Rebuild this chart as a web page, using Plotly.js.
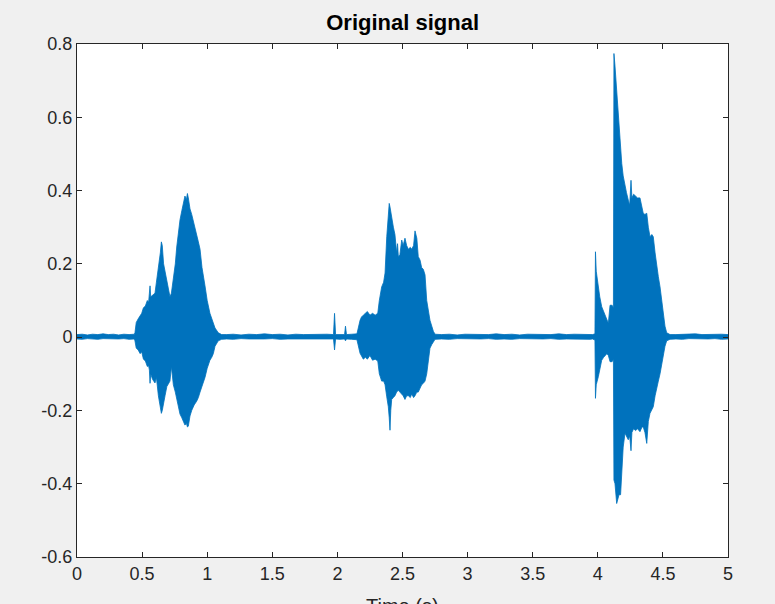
<!DOCTYPE html>
<html>
<head>
<meta charset="utf-8">
<script src="https://cdn.plot.ly/plotly-3.0.1.min.js"></script>
<style>
  html, body { margin: 0; padding: 0; background: #f0f0f0; }
  #chart { width: 775px; height: 604px; }
</style>
</head>
<body>
<div id="chart"></div>
<script>
// Envelope of the waveform (time in s, upper and lower amplitude)
var envTime = [
  0.000,0.040,0.080,0.120,0.160,0.200,0.240,0.280,0.320,0.360,0.400,0.440,
  0.445,0.455,0.470,0.485,0.497,0.510,0.525,0.540,0.550,0.556,0.561,0.566,0.580,0.599,0.610,0.625,0.640,0.648,0.655,0.665,0.676,0.690,0.700,0.714,0.725,0.740,0.755,0.766,0.780,0.791,0.805,0.820,0.829,0.840,0.848,0.855,0.868,0.881,0.900,0.919,0.932,0.945,0.960,0.983,1.000,1.021,1.035,1.047,1.060,1.085,1.111,
  1.150,1.200,1.260,1.320,1.380,1.440,1.500,1.560,1.620,1.680,1.740,1.800,1.860,1.920,1.970,1.978,1.986,2.020,2.055,2.062,2.070,2.110,2.150,
  2.174,2.185,2.199,2.215,2.230,2.250,2.270,2.290,2.310,2.322,2.340,2.355,2.366,2.379,2.391,2.398,2.404,2.410,2.417,2.430,2.442,2.455,2.462,2.468,2.480,2.494,2.505,2.519,2.532,2.545,2.560,2.571,2.585,2.596,2.610,2.621,2.635,2.647,2.660,2.673,2.686,2.700,2.711,2.725,2.737,2.750,
  2.800,2.860,2.920,2.980,3.040,3.100,3.160,3.220,3.280,3.340,3.400,3.460,3.520,3.580,3.640,3.700,3.760,3.820,3.880,3.940,
  3.960,3.978,3.982,3.988,4.004,4.015,4.030,4.045,4.055,4.070,4.081,4.094,4.110,4.120,4.124,4.132,4.145,4.155,4.163,4.175,4.184,4.195,4.209,4.220,4.234,4.245,4.255,4.262,4.275,4.290,4.305,4.324,4.340,4.349,4.362,4.376,4.388,4.401,4.415,4.426,4.440,4.452,4.465,4.478,4.490,4.503,4.516,4.529,4.555,
  4.600,4.650,4.700,4.750,4.800,4.850,4.900,4.950,5.000
];
var envUpper = [
  0.007,0.008,0.006,0.008,0.007,0.009,0.007,0.008,0.006,0.008,0.007,0.008,
  0.012,0.040,0.050,0.058,0.065,0.080,0.085,0.100,0.095,0.120,0.140,0.110,0.115,0.120,0.150,0.185,0.230,0.260,0.250,0.200,0.180,0.150,0.130,0.110,0.120,0.155,0.200,0.246,0.290,0.320,0.345,0.370,0.385,0.375,0.392,0.380,0.350,0.335,0.310,0.285,0.260,0.240,0.190,0.140,0.100,0.065,0.050,0.038,0.025,0.012,0.007,
  0.007,0.008,0.006,0.008,0.007,0.009,0.007,0.008,0.006,0.008,0.007,0.008,0.007,0.008,0.007,0.065,0.007,0.008,0.007,0.030,0.007,0.008,0.009,
  0.046,0.055,0.060,0.065,0.070,0.060,0.065,0.060,0.065,0.100,0.137,0.150,0.175,0.274,0.340,0.365,0.355,0.340,0.320,0.300,0.280,0.230,0.255,0.220,0.225,0.265,0.250,0.270,0.250,0.240,0.245,0.240,0.250,0.290,0.270,0.220,0.210,0.190,0.185,0.170,0.100,0.070,0.046,0.030,0.016,0.008,
  0.007,0.008,0.006,0.008,0.007,0.008,0.007,0.009,0.007,0.008,0.006,0.008,0.007,0.008,0.007,0.009,0.007,0.008,0.007,0.008,
  0.007,0.009,0.233,0.180,0.137,0.110,0.083,0.070,0.065,0.050,0.038,0.087,0.087,0.080,0.774,0.740,0.670,0.630,0.600,0.538,0.474,0.440,0.410,0.395,0.374,0.360,0.428,0.380,0.390,0.385,0.380,0.380,0.350,0.338,0.335,0.338,0.300,0.274,0.280,0.274,0.230,0.192,0.165,0.137,0.100,0.055,0.030,0.012,0.007,
  0.007,0.008,0.007,0.009,0.007,0.008,0.007,0.008,0.007
];
var envLower = [
  -0.005,-0.006,-0.004,-0.005,-0.006,-0.004,-0.005,-0.006,-0.005,-0.004,-0.006,-0.005,
  -0.010,-0.030,-0.035,-0.045,-0.040,-0.060,-0.065,-0.080,-0.078,-0.090,-0.126,-0.100,-0.115,-0.125,-0.110,-0.160,-0.190,-0.208,-0.200,-0.175,-0.160,-0.135,-0.130,-0.120,-0.080,-0.130,-0.150,-0.170,-0.195,-0.210,-0.220,-0.230,-0.240,-0.235,-0.245,-0.243,-0.215,-0.200,-0.185,-0.175,-0.165,-0.150,-0.135,-0.110,-0.085,-0.063,-0.055,-0.045,-0.025,-0.010,-0.006,
  -0.005,-0.006,-0.004,-0.005,-0.006,-0.005,-0.004,-0.006,-0.005,-0.005,-0.006,-0.004,-0.005,-0.006,-0.005,-0.035,-0.005,-0.006,-0.005,-0.010,-0.005,-0.006,-0.007,
  -0.044,-0.050,-0.060,-0.055,-0.060,-0.050,-0.063,-0.060,-0.065,-0.100,-0.120,-0.120,-0.130,-0.163,-0.190,-0.220,-0.254,-0.200,-0.170,-0.165,-0.160,-0.150,-0.148,-0.145,-0.150,-0.155,-0.160,-0.170,-0.160,-0.160,-0.165,-0.155,-0.165,-0.160,-0.150,-0.150,-0.140,-0.130,-0.126,-0.120,-0.100,-0.060,-0.030,-0.020,-0.014,-0.006,
  -0.005,-0.006,-0.004,-0.005,-0.006,-0.005,-0.004,-0.006,-0.005,-0.006,-0.004,-0.005,-0.006,-0.005,-0.004,-0.006,-0.005,-0.006,-0.005,-0.006,
  -0.005,-0.008,-0.167,-0.130,-0.108,-0.090,-0.063,-0.055,-0.050,-0.045,-0.050,-0.067,-0.067,-0.060,-0.390,-0.400,-0.454,-0.440,-0.430,-0.430,-0.354,-0.300,-0.262,-0.270,-0.280,-0.270,-0.310,-0.260,-0.250,-0.255,-0.250,-0.258,-0.245,-0.245,-0.260,-0.290,-0.230,-0.208,-0.200,-0.190,-0.160,-0.136,-0.120,-0.100,-0.075,-0.050,-0.025,-0.010,-0.006,
  -0.005,-0.006,-0.004,-0.005,-0.006,-0.005,-0.004,-0.006,-0.005
];

var xTickVals = [0,0.5,1,1.5,2,2.5,3,3.5,4,4.5,5];
var xTickText = ["0","0.5","1","1.5","2","2.5","3","3.5","4","4.5","5"];
var yTickVals = [-0.6,-0.4,-0.2,0,0.2,0.4,0.6,0.8];
var yTickText = ["-0.6","-0.4","-0.2","0","0.2","0.4","0.6","0.8"];

var titleText = "Original signal";
var xLabel = "Time (s)";

var blue = "#0072BD";
var axisColor = "#262626";
var font = "Liberation Sans, Arial, Helvetica, sans-serif";

var traces = [
  { x: envTime, y: envLower, type: "scatter", mode: "lines",
    line: { color: blue, width: 0.8 }, hoverinfo: "skip", showlegend: false },
  { x: envTime, y: envUpper, type: "scatter", mode: "lines",
    line: { color: blue, width: 0.8 }, fill: "tonexty", fillcolor: blue,
    hoverinfo: "skip", showlegend: false }
];

var axisCommon = {
  showline: true, linecolor: axisColor, linewidth: 1, mirror: "ticks",
  ticks: "inside", ticklen: 5, tickwidth: 1, tickcolor: axisColor,
  showgrid: false, zeroline: false, tickmode: "array",
  tickfont: { family: font, size: 18, color: axisColor }
};

var layout = {
  width: 775, height: 604,
  paper_bgcolor: "#f0f0f0", plot_bgcolor: "#ffffff",
  margin: { l: 77, r: 47, t: 44, b: 47, autoexpand: false },
  title: { text: titleText, font: { family: font, size: 22, color: "#000000", weight: "bold" },
           x: 0.5195, xanchor: "center", y: 1 - 22.5 / 604, yanchor: "middle" },
  xaxis: Object.assign({}, axisCommon, { range: [0, 5], tickvals: xTickVals, ticktext: xTickText }),
  yaxis: Object.assign({}, axisCommon, { range: [-0.6, 0.8], tickvals: yTickVals, ticktext: yTickText }),
  annotations: [
    { text: xLabel, xref: "paper", yref: "paper", x: 0.5, y: -(606 - 557) / 513,
      xanchor: "center", yanchor: "middle", showarrow: false,
      font: { family: font, size: 20, color: axisColor } }
  ]
};

Plotly.newPlot("chart", traces, layout, { staticPlot: true, displayModeBar: false });
</script>
</body>
</html>
